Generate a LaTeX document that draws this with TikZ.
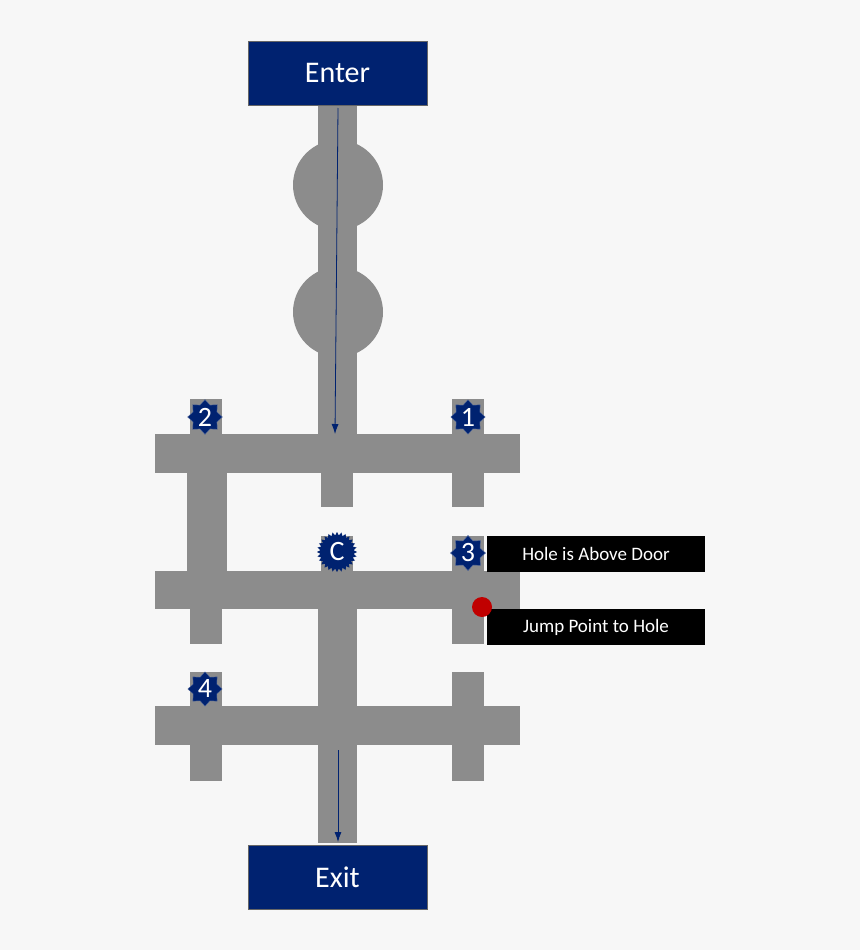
\documentclass[tikz,border=0pt]{standalone}
\usepackage{fontspec}
\setmainfont{Carlito}
\usetikzlibrary{shapes.geometric,shapes.misc,arrows.meta}
\definecolor{navy}{HTML}{002270}
\definecolor{hall}{HTML}{8C8C8C}
\definecolor{bg}{HTML}{F7F7F7}
\definecolor{dotred}{HTML}{C00000}
\begin{document}
\begin{tikzpicture}[x=1pt,y=-1pt,
  room/.style={fill=hall,draw=none},
  titlebox/.style={fill=navy,draw=black!60,line width=0.6pt,minimum width=179pt,minimum height=64pt,text=white,font=\fontsize{30}{30}\selectfont,inner sep=0pt},
  numstar/.style={star,star points=8,star point ratio=1.35,fill=navy,draw=navy!70,minimum size=34pt,inner sep=0pt,text=white,font=\fontsize{28}{28}\selectfont},
  burst/.style={star,star points=28,star point ratio=1.2,fill=navy,minimum size=40pt,inner sep=0pt,text=white,font=\fontsize{28}{28}\selectfont},
  note/.style={fill=black,text=white,minimum width=218pt,minimum height=36pt,inner sep=0pt,font=\fontsize{19}{19}\selectfont},
  flow/.style={navy,line width=0.8pt,-{Latex[length=10pt,width=7pt]}}]
\fill[bg] (0,0) rectangle (860,950);
\useasboundingbox (0,0) rectangle (860,950);
% halls
\fill[room] (318,105) rectangle (357,434);
\fill[room] (338,185) circle (45);
\fill[room] (338,312) circle (45);
\fill[room] (155,434) rectangle (520,473);
\fill[room] (321,473) rectangle (353,507);
\fill[room] (190,399) rectangle (222,434);
\fill[room] (452,399) rectangle (484,507);
\fill[room] (187,473) rectangle (227,572);
\fill[room] (155,571) rectangle (520,609);
\fill[room] (321,536) rectangle (353,571);
\fill[room] (452,536) rectangle (484,644);
\fill[room] (190,609) rectangle (222,644);
\fill[room] (318,609) rectangle (357,843);
\fill[room] (155,706) rectangle (520,745);
\fill[room] (190,672) rectangle (222,781);
\fill[room] (452,672) rectangle (484,781);
% boxes
\node[titlebox] (enter) at (337.5,73) {Enter};
\node[titlebox] (exit) at (337.5,877) {Exit};
\coordinate (a1) at (338,108);
\coordinate (a2) at (335,434);
\coordinate (b1) at (338,750);
\coordinate (b2) at (338,842);
\draw[flow] (a1) -- (a2);
\draw[flow] (b1) -- (b2);
\node[numstar] (s2) at (205,417) {2};
\node[numstar] (s1) at (468,417) {1};
\node[numstar] (s3) at (468,553) {3};
\node[numstar] (s4) at (205,689) {4};
\node[burst] (c) at (337,552) {C};
\node[note] (n1) at (596,553.5) {Hole is Above Door};
\node[note] (n2) at (596,627) {Jump Point to Hole};
\fill[dotred] (482,607) circle (10) node (jp) {};
\end{tikzpicture}
\end{document}
